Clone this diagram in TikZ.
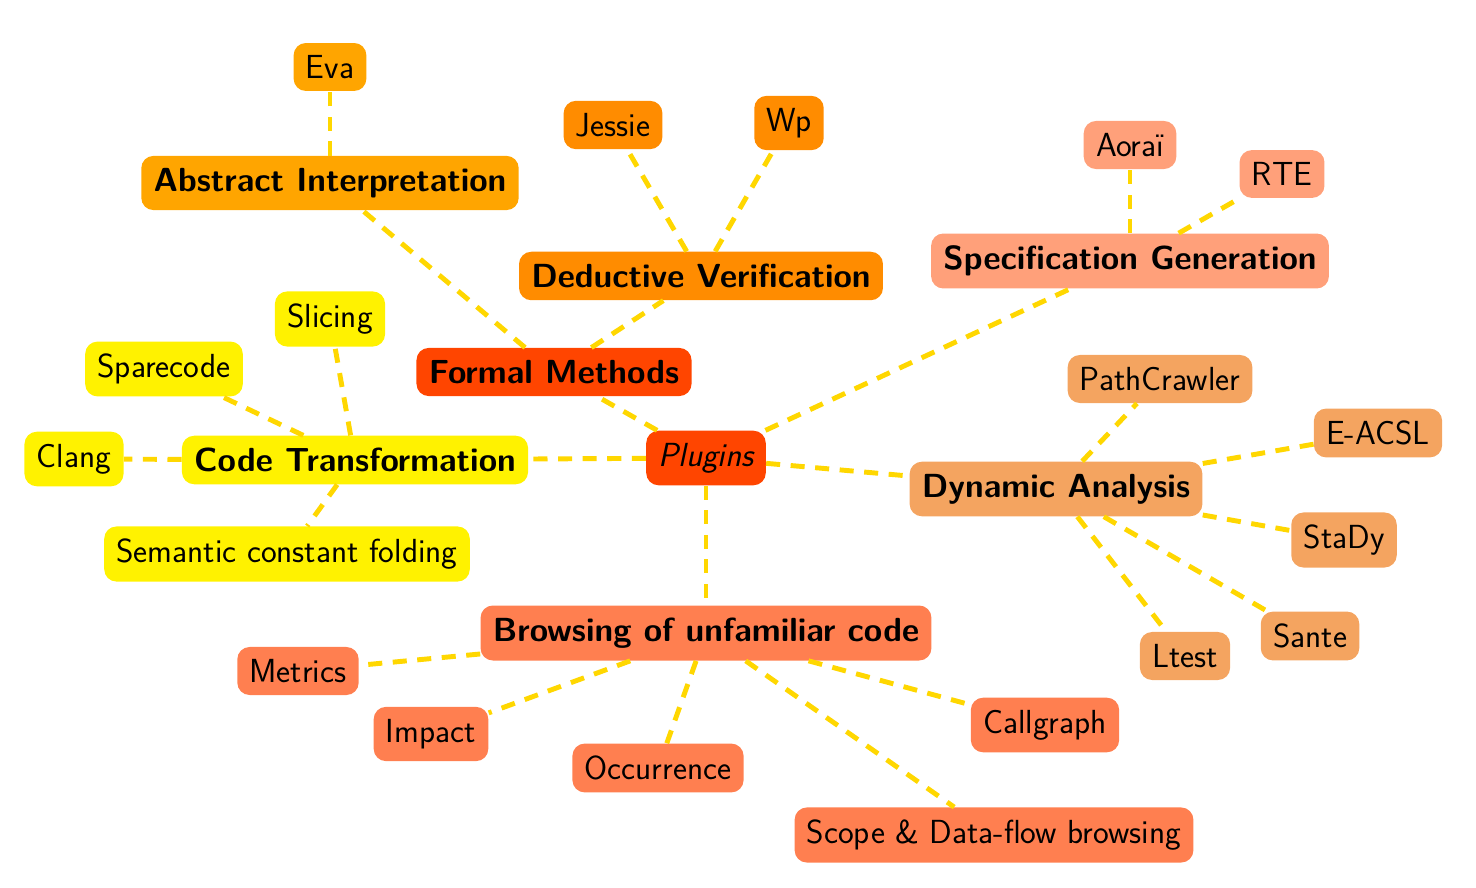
\documentclass[tikz,border=0pt]{standalone}
\begin{document}
\begin{tikzpicture}[x=0.02cm,y=-0.02cm,
  base/.style={rounded corners=7pt,inner xsep=7pt,inner ysep=7pt,font=\sffamily\fontsize{19}{22}\selectfont},
  main/.style={base,font=\sffamily\bfseries\fontsize{19}{22}\selectfont},
  link/.style={draw={rgb,255:red,255;green,215;blue,0},line width=2.8pt,dash pattern=on 8pt off 6pt}]
\definecolor{cRoot}{RGB}{255,69,0}
\definecolor{cAI}{RGB}{255,165,0}
\definecolor{cDV}{RGB}{255,140,0}
\definecolor{cSG}{RGB}{255,160,122}
\definecolor{cDA}{RGB}{244,164,96}
\definecolor{cBR}{RGB}{255,127,80}
\definecolor{cCT}{RGB}{255,242,0}
\useasboundingbox (0,0) rectangle (1476,888);
\node[base,fill=cRoot,font=\sffamily\itshape\fontsize{19}{22}\selectfont] (pl) at (706,458) {Plugins};
\node[main,fill=cRoot] (fm) at (554,372) {Formal Methods};
\node[main,fill=cAI] (ai) at (330,183) {Abstract Interpretation};
\node[base,fill=cAI] (eva) at (330,67) {Eva};
\node[main,fill=cDV] (dv) at (701,276) {Deductive Verification};
\node[base,fill=cDV] (je) at (613,125) {Jessie};
\node[base,fill=cDV] (wp) at (789,123) {Wp};
\node[main,fill=cSG] (sg) at (1130,261) {Specification Generation};
\node[base,fill=cSG] (ao) at (1130,145) {Aoraï};
\node[base,fill=cSG] (rte) at (1282,174) {RTE};
\node[main,fill=cDA] (da) at (1056,489) {Dynamic Analysis};
\node[base,fill=cDA] (pc) at (1160,379) {PathCrawler};
\node[base,fill=cDA] (ea) at (1378,433) {E-ACSL};
\node[base,fill=cDA] (st) at (1344,540) {StaDy};
\node[base,fill=cDA] (sa) at (1310,636) {Sante};
\node[base,fill=cDA] (lt) at (1185,656) {Ltest};
\node[main,fill=cBR] (br) at (706,633) {Browsing of unfamiliar code};
\node[base,fill=cBR] (me) at (298,671) {Metrics};
\node[base,fill=cBR] (im) at (431,734) {Impact};
\node[base,fill=cBR] (oc) at (658,768) {Occurrence};
\node[base,fill=cBR] (sc) at (994,835) {Scope \& Data-flow browsing};
\node[base,fill=cBR] (cg) at (1045,725) {Callgraph};
\node[main,fill=cCT] (ct) at (355,460) {Code Transformation};
\node[base,fill=cCT] (sl) at (330,319) {Slicing};
\node[base,fill=cCT] (sp) at (164,369) {Sparecode};
\node[base,fill=cCT] (cl) at (74,459) {Clang};
\node[base,fill=cCT] (scf) at (287,554) {Semantic constant folding};
\foreach \a/\b in {pl/fm,fm/ai,ai/eva,fm/dv,dv/je,dv/wp,pl/sg,sg/ao,sg/rte,pl/da,da/pc,da/ea,da/st,da/sa,da/lt,pl/br,br/me,br/im,br/oc,br/sc,br/cg,pl/ct,ct/sl,ct/sp,ct/cl,ct/scf}
  \path[link] (\a) -- (\b);
\end{tikzpicture}
\end{document}
